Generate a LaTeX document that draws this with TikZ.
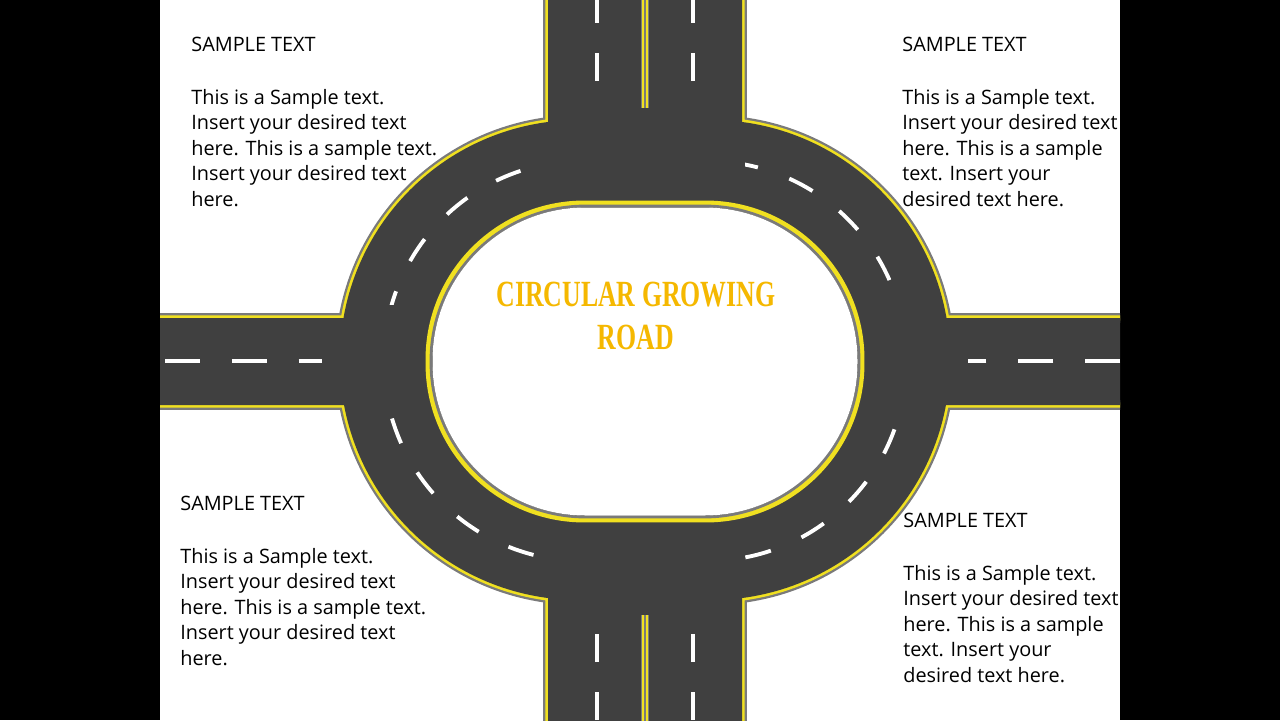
\documentclass[tikz,border=0pt]{standalone}
\usepackage{fontspec}
\setmainfont{Open Sans}
\newfontfamily\titlefont{Liberation Serif}
\definecolor{asphalt}{HTML}{404040}
\definecolor{roadyellow}{HTML}{F0E020}
\definecolor{edgegray}{HTML}{7A7A7A}
\definecolor{titleorange}{HTML}{F5B800}
\tikzset{
  txt/.style={anchor=north west,align=left,font=\fontsize{11.3}{14.5}\selectfont,inner sep=0pt},
  lane/.style={white,line width=2.2pt,dash pattern=on 16pt off 17pt},
}
\newcommand\roadshape{
  (340,120) [rounded corners=136pt] rectangle (950,600) [sharp corners]
  (548,-10) rectangle (742,200)
  (548,520) rectangle (742,730)
  (150,318) rectangle (400,405)
  (890,318) rectangle (1130,405)}
\begin{document}
\begin{tikzpicture}[x=0.02cm,y=-0.02cm]
\useasboundingbox (0,0) rectangle (1280,720);
\fill[black] (0,0) rectangle (160,720);
\fill[black] (1120,0) rectangle (1280,720);
\begin{scope}
\clip (160,0) rectangle (1120,720);
% road body with edge lines
\draw[edgegray,line width=5.6pt] \roadshape;
\draw[roadyellow,line width=3pt] \roadshape;
\fill[asphalt] \roadshape;
% lanes on the ring
\draw[lane,dash pattern=on 15pt off 19pt] (384,161) [rounded corners=113pt] rectangle (906,561);
\fill[asphalt] (545,135) rectangle (745,190);
\fill[asphalt] (545,530) rectangle (745,590);
\fill[asphalt] (370,305) rectangle (400,418);
\fill[asphalt] (890,305) rectangle (920,418);
% centre hole
\draw[roadyellow,line width=2.8pt] (428,203) [rounded corners=89pt] rectangle (862,520);
\draw[edgegray,line width=1.6pt] (431,206) [rounded corners=88pt] rectangle (859,517);
\fill[white] (432.5,207.5) [rounded corners=87pt] rectangle (857.5,515.5);
% straight lanes
\foreach \x in {597,693} {
  \draw[lane] (\x,-5) -- (\x,108);
  \draw[lane] (\x,720) -- (\x,615);
}
\draw[lane,dash pattern=on 20pt off 18pt] (165,361) -- (322,361);
\draw[lane,dash pattern=on 20pt off 18pt] (1120,361) -- (968,361);
% centre double line
\foreach \ya/\yb in {-5/108,615/725} {
  \draw[edgegray,line width=5pt] (645,\ya) -- (645,\yb);
  \draw[roadyellow,line width=3.4pt] (645,\ya) -- (645,\yb);
  \draw[edgegray,line width=1.4pt] (645,\ya) -- (645,\yb);
}
\end{scope}
% title
\node[titleorange,align=center,font=\titlefont\bfseries\fontsize{21}{24}\selectfont] (title) at (636,316)
  {\scalebox{0.7}[1]{CIRCULAR GROWING}\\\scalebox{0.7}[1]{ROAD}};
% texts
\node[txt] (tl) at (191,37) {SAMPLE TEXT\\[15.5pt]This is a Sample text.\\Insert your desired text\\here. This is a sample text.\\Insert your desired text\\here.};
\node[txt] (tr) at (902,37) {SAMPLE TEXT\\[15.5pt]This is a Sample text.\\Insert your desired text\\here. This is a sample\\text. Insert your\\desired text here.};
\node[txt] (bl) at (180,496) {SAMPLE TEXT\\[15.5pt]This is a Sample text.\\Insert your desired text\\here. This is a sample text.\\Insert your desired text\\here.};
\node[txt] (br) at (903,513) {SAMPLE TEXT\\[15.5pt]This is a Sample text.\\Insert your desired text\\here. This is a sample\\text. Insert your\\desired text here.};
\end{tikzpicture}
\end{document}
